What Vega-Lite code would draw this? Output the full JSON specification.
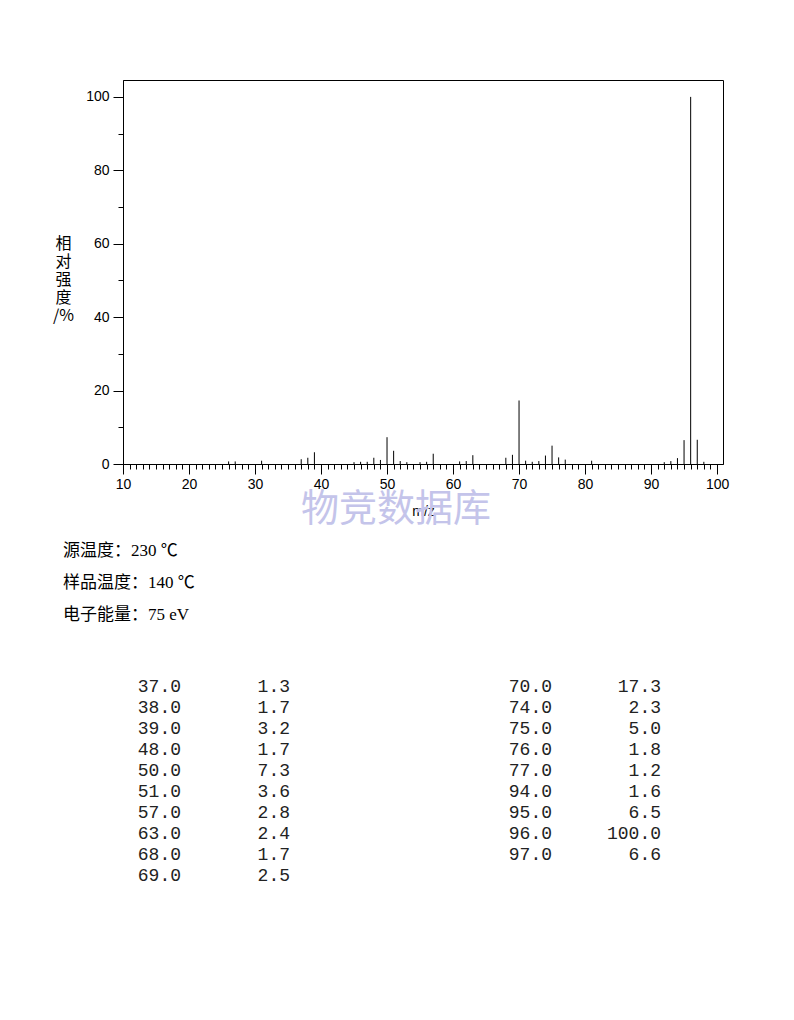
{
  "$schema": "https://vega.github.io/schema/vega-lite/v6.json",
  "background": "white",
  "padding": {"left": 51, "top": 79, "right": 0, "bottom": 0},
  "autosize": {"type": "pad"},
  "spacing": 5,
  "resolve": {"scale": {"x": "independent", "y": "independent"}},
  "config": {
    "view": {"stroke": "black", "strokeWidth": 1},
    "axis": {
      "grid": false,
      "domainColor": "black",
      "tickColor": "black",
      "labelColor": "black",
      "titleColor": "black",
      "labelFont": "Liberation Sans",
      "labelFontSize": 14,
      "titleFontWeight": "normal",
      "labelOverlap": false,
      "labelFlush": false
    },
    "text": {"color": "black"}
  },
  "vconcat": [
    {
      "width": 600,
      "height": 384,
      "title": {
        "text": "物竞数据库",
        "orient": "bottom",
        "anchor": "middle",
        "dx": -27,
        "offset": -27,
        "font": "Noto Sans CJK SC",
        "fontSize": 38,
        "fontWeight": "normal",
        "color": "#c4c4ea"
      },
      "data": {
        "values": [
          {"mz": 26, "intensity": 0.7},
          {"mz": 27, "intensity": 0.7},
          {"mz": 31, "intensity": 0.9},
          {"mz": 37, "intensity": 1.3},
          {"mz": 38, "intensity": 1.7},
          {"mz": 39, "intensity": 3.2},
          {"mz": 45, "intensity": 0.5},
          {"mz": 46, "intensity": 0.6},
          {"mz": 47, "intensity": 0.6},
          {"mz": 48, "intensity": 1.7},
          {"mz": 49, "intensity": 1.1},
          {"mz": 50, "intensity": 7.3},
          {"mz": 51, "intensity": 3.6},
          {"mz": 52, "intensity": 0.8},
          {"mz": 53, "intensity": 0.5},
          {"mz": 55, "intensity": 0.5},
          {"mz": 56, "intensity": 0.6},
          {"mz": 57, "intensity": 2.8},
          {"mz": 61, "intensity": 0.7},
          {"mz": 62, "intensity": 0.8},
          {"mz": 63, "intensity": 2.4},
          {"mz": 68, "intensity": 1.7},
          {"mz": 69, "intensity": 2.5},
          {"mz": 70, "intensity": 17.3},
          {"mz": 71, "intensity": 0.9},
          {"mz": 72, "intensity": 0.6},
          {"mz": 73, "intensity": 0.8},
          {"mz": 74, "intensity": 2.3},
          {"mz": 75, "intensity": 5.0},
          {"mz": 76, "intensity": 1.8},
          {"mz": 77, "intensity": 1.2},
          {"mz": 81, "intensity": 0.9},
          {"mz": 92, "intensity": 0.5},
          {"mz": 93, "intensity": 0.8},
          {"mz": 94, "intensity": 1.6},
          {"mz": 95, "intensity": 6.5},
          {"mz": 96, "intensity": 100.0},
          {"mz": 97, "intensity": 6.6},
          {"mz": 98, "intensity": 0.6}
        ]
      },
      "mark": {"type": "rule", "color": "black", "strokeWidth": 1},
      "encoding": {
        "x": {
          "field": "mz",
          "type": "quantitative",
          "scale": {"domain": [10, 100.9], "nice": false, "zero": false},
          "axis": {
            "title": "m/z",
            "titleFont": "Liberation Sans",
            "titleFontSize": 14,
            "titlePadding": 13,
            "values": [10,11,12,13,14,15,16,17,18,19,20,21,22,23,24,25,26,27,28,29,30,31,32,33,34,35,36,37,38,39,40,41,42,43,44,45,46,47,48,49,50,51,52,53,54,55,56,57,58,59,60,61,62,63,64,65,66,67,68,69,70,71,72,73,74,75,76,77,78,79,80,81,82,83,84,85,86,87,88,89,90,91,92,93,94,95,96,97,98,99,100],
            "labelExpr": "datum.value % 10 === 0 ? datum.label : ''",
            "tickSize": {"condition": {"test": "datum.value % 10 === 0", "value": 10}, "value": 5},
            "labelPadding": 3
          }
        },
        "y": {
          "field": "intensity",
          "type": "quantitative",
          "scale": {"domain": [0, 104.6], "nice": false},
          "axis": {
            "title": ["相", "对", "强", "度", "/%"],
            "titleFont": "Noto Sans CJK SC",
            "titleFontSize": 16,
            "titleLineHeight": 18,
            "titleAngle": 0,
            "titleAlign": "center",
            "titleBaseline": "top",
            "titleX": -60,
            "titleY": 155,
            "values": [0, 10, 20, 30, 40, 50, 60, 70, 80, 90, 100],
            "labelExpr": "datum.value % 20 === 0 ? datum.label : ''",
            "tickSize": {"condition": {"test": "datum.value % 20 === 0", "value": 10}, "value": 5},
            "labelPadding": 4
          }
        },
        "y2": {"datum": 0}
      }
    },
    {
      "spacing": 45,
      "resolve": {"scale": {"x": "independent", "y": "independent"}},
      "vconcat": [
        {
          "width": 200,
          "height": 96,
          "view": {"stroke": null},
          "data": {
            "values": [
              {"row": 1, "col": 0, "text": "源温度：230 ℃"},
              {"row": 2, "col": 0, "text": "样品温度：140 ℃"},
              {"row": 3, "col": 0, "text": "电子能量：75 eV"}
            ]
          },
          "mark": {"type": "text", "align": "left", "baseline": "middle", "font": "Liberation Serif, Noto Sans CJK SC", "fontSize": 17},
          "encoding": {
            "x": {"field": "col", "type": "quantitative", "scale": {"domain": [0, 1], "range": [-60, 140]}, "axis": null},
            "y": {"field": "row", "type": "quantitative", "axis": null, "scale": {"domain": [0.5, 3.5], "reverse": true, "nice": false, "zero": false}},
            "text": {"field": "text"}
          }
        },
        {
          "width": 600,
          "height": 210,
          "view": {"stroke": null},
          "data": {
            "values": [
              {"side": 0, "row": 1, "mz": "37.0", "inten": "1.3"},
              {"side": 0, "row": 2, "mz": "38.0", "inten": "1.7"},
              {"side": 0, "row": 3, "mz": "39.0", "inten": "3.2"},
              {"side": 0, "row": 4, "mz": "48.0", "inten": "1.7"},
              {"side": 0, "row": 5, "mz": "50.0", "inten": "7.3"},
              {"side": 0, "row": 6, "mz": "51.0", "inten": "3.6"},
              {"side": 0, "row": 7, "mz": "57.0", "inten": "2.8"},
              {"side": 0, "row": 8, "mz": "63.0", "inten": "2.4"},
              {"side": 0, "row": 9, "mz": "68.0", "inten": "1.7"},
              {"side": 0, "row": 10, "mz": "69.0", "inten": "2.5"},
              {"side": 1, "row": 1, "mz": "70.0", "inten": "17.3"},
              {"side": 1, "row": 2, "mz": "74.0", "inten": "2.3"},
              {"side": 1, "row": 3, "mz": "75.0", "inten": "5.0"},
              {"side": 1, "row": 4, "mz": "76.0", "inten": "1.8"},
              {"side": 1, "row": 5, "mz": "77.0", "inten": "1.2"},
              {"side": 1, "row": 6, "mz": "94.0", "inten": "1.6"},
              {"side": 1, "row": 7, "mz": "95.0", "inten": "6.5"},
              {"side": 1, "row": 8, "mz": "96.0", "inten": "100.0"},
              {"side": 1, "row": 9, "mz": "97.0", "inten": "6.6"}
            ]
          },
          "encoding": {
            "x": {"field": "side", "type": "quantitative", "scale": {"domain": [0, 1], "range": [58, 429]}, "axis": null},
            "y": {"field": "row", "type": "quantitative", "axis": null, "scale": {"domain": [0.5, 10.5], "reverse": true, "nice": false, "zero": false}}
          },
          "layer": [
            {
              "mark": {"type": "text", "align": "right", "baseline": "middle", "font": "Liberation Mono", "fontSize": 18, "color": "#222222"},
              "encoding": {"text": {"field": "mz"}}
            },
            {
              "mark": {"type": "text", "align": "right", "baseline": "middle", "font": "Liberation Mono", "fontSize": 18, "color": "#222222", "dx": 109},
              "encoding": {"text": {"field": "inten"}}
            }
          ]
        }
      ]
    }
  ]
}
